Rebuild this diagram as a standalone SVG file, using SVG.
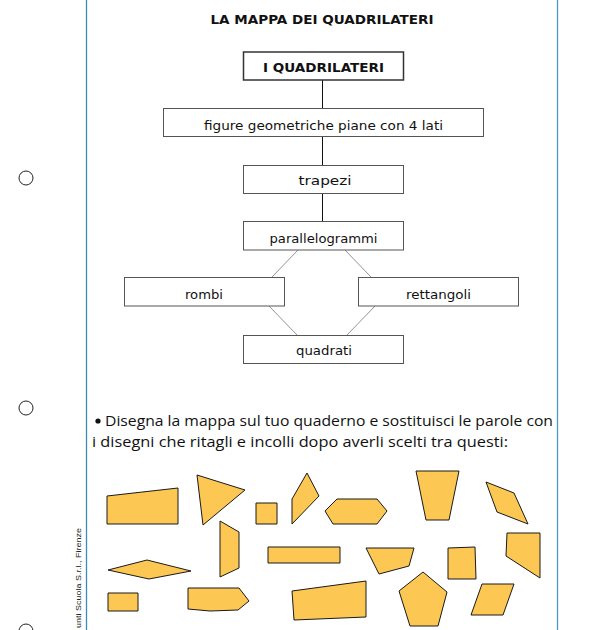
<svg xmlns="http://www.w3.org/2000/svg" width="595" height="630" viewBox="0 0 595 630">
<style>
.box{fill:#fff;stroke:#555;stroke-width:1}
.lbl{font-family:"DejaVu Sans","Liberation Sans",sans-serif;font-size:12.5px;fill:#111;text-anchor:middle}
.bold{font-weight:bold}
.sh{fill:#fcc752;stroke:#1a1a1a;stroke-width:1;stroke-linejoin:round}
.hole{fill:none;stroke:#222;stroke-width:1}
.cv{stroke:#111;stroke-width:1;fill:none}
.cd{stroke:#777;stroke-width:0.8;fill:none}
</style>
<rect width="595" height="630" fill="#fff"/>
<line x1="86.5" y1="0" x2="86.5" y2="630" stroke="#3b8db5" stroke-width="1.3"/>
<line x1="557.5" y1="0" x2="557.5" y2="630" stroke="#4a9cc2" stroke-width="1.3"/>
<circle class="hole" cx="26" cy="178" r="7"/>
<circle class="hole" cx="26" cy="408" r="7"/>
<circle class="hole" cx="26" cy="631" r="7"/>
<text transform="translate(81,628) rotate(-90)" font-family="'Liberation Sans',sans-serif" font-size="8" fill="#222" textLength="100" lengthAdjust="spacingAndGlyphs">unti Scuola S.r.l., Firenze</text>
<text x="322" y="24" class="lbl bold" font-size="13" textLength="223" lengthAdjust="spacingAndGlyphs">LA MAPPA DEI QUADRILATERI</text>
<g id="connectors">
<line class="cv" x1="322.5" y1="80" x2="322.5" y2="108"/>
<line class="cv" x1="322.5" y1="136" x2="322.5" y2="165"/>
<line class="cv" x1="322.5" y1="193" x2="322.5" y2="221"/>
<line class="cd" x1="298" y1="250" x2="272" y2="277"/>
<line class="cd" x1="345" y1="250" x2="371" y2="277"/>
<line class="cd" x1="269" y1="306" x2="297" y2="335"/>
<line class="cd" x1="375" y1="306" x2="347" y2="335"/>
</g>
<g id="n-quadrilateri">
<rect x="243.5" y="52" width="160" height="28" fill="#fff" stroke="#333" stroke-width="1.5"/>
<text x="323.5" y="72" class="lbl bold" textLength="121" lengthAdjust="spacingAndGlyphs">I QUADRILATERI</text>
</g>
<g id="n-figure">
<rect class="box" x="163.5" y="108.5" width="320" height="28"/>
<text x="323.5" y="130" class="lbl" textLength="239" lengthAdjust="spacingAndGlyphs">figure geometriche piane con 4 lati</text>
</g>
<g id="n-trapezi">
<rect class="box" x="243.5" y="165.5" width="160" height="28"/>
<text x="325" y="185" class="lbl" textLength="53" lengthAdjust="spacingAndGlyphs">trapezi</text>
</g>
<g id="n-parallelogrammi">
<rect class="box" x="243.5" y="221.5" width="160" height="28.5"/>
<text x="323.5" y="242.5" class="lbl" textLength="108" lengthAdjust="spacingAndGlyphs">parallelogrammi</text>
</g>
<g id="n-rombi">
<rect class="box" x="124.5" y="277.5" width="160" height="28.5"/>
<text x="204" y="298.5" class="lbl" textLength="38" lengthAdjust="spacingAndGlyphs">rombi</text>
</g>
<g id="n-rettangoli">
<rect class="box" x="358.5" y="277.5" width="160" height="28.5"/>
<text x="438.5" y="298.5" class="lbl" textLength="65" lengthAdjust="spacingAndGlyphs">rettangoli</text>
</g>
<g id="n-quadrati">
<rect class="box" x="243.5" y="335.5" width="160" height="28"/>
<text x="324" y="355" class="lbl" textLength="56" lengthAdjust="spacingAndGlyphs">quadrati</text>
</g>
<g id="instructions" font-family="'Open Sans','DejaVu Sans',sans-serif" font-size="15" fill="#111">
<circle cx="98" cy="421" r="2.6" fill="#111"/>
<text x="105" y="426" textLength="448" lengthAdjust="spacingAndGlyphs">Disegna la mappa sul tuo quaderno e sostituisci le parole con</text>
<text x="92" y="447" textLength="416" lengthAdjust="spacingAndGlyphs">i disegni che ritagli e incolli dopo averli scelti tra questi:</text>
</g>
<g id="shapes">
<polygon class="sh" points="107,496 178,488 178,524 107,524"/>
<polygon class="sh" points="197,475 245,490 203,525"/>
<polygon class="sh" points="256,503 277,503 277,524 256,524"/>
<polygon class="sh" points="307,473 319,496 292,524 292,499"/>
<polygon class="sh" points="325,511 337,499 377,499 387,511 377,524 333,524"/>
<polygon class="sh" points="416,471 459,471 449,520 426,520"/>
<polygon class="sh" points="486,482 514,493 528,524 497,512"/>
<polygon class="sh" points="220,521 239,532 239,568 220,577"/>
<polygon class="sh" points="108,570 147,560 191,571 149,579"/>
<polygon class="sh" points="268,547 340,547 340,563 268,563"/>
<polygon class="sh" points="366,548 414,548 409,566 379,574"/>
<polygon class="sh" points="448,548 475,547 476,579 448,579"/>
<polygon class="sh" points="507,533 540,533 540,578 506,556"/>
<polygon class="sh" points="108,593 138,593 138,611 108,611"/>
<polygon class="sh" points="188,588 239,588 249,601 238,610 210,611 188,609"/>
<polygon class="sh" points="292,591 366,581 366,617 294,620"/>
<polygon class="sh" points="423,572 447,592 438,626 410,626 399,591"/>
<polygon class="sh" points="482,584 514,584 503,615 471,615"/>
</g>
</svg>
